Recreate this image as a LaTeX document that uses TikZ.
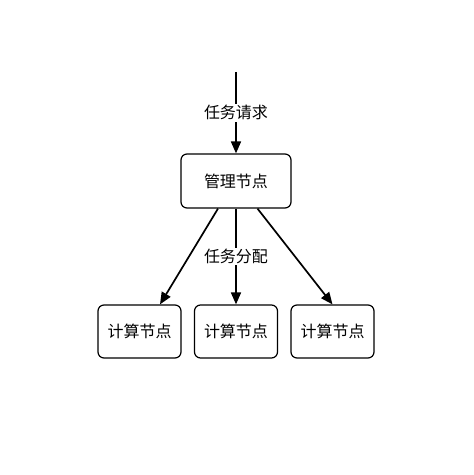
\documentclass[tikz,border=0pt]{standalone}
\usepackage{fontspec}
\newfontfamily\cjk{Noto Sans CJK SC}
\usetikzlibrary{arrows.meta}
\begin{document}
\begin{tikzpicture}[x=1pt,y=1pt,
  nodebox/.style={draw=black,line width=1.2pt,rounded corners=6pt,inner sep=0pt,font=\cjk\fontsize{16}{19}\selectfont},
  arr/.style={line width=1.7pt,-{Triangle[length=12pt,width=10pt]}},
  lbl/.style={fill=white,inner sep=1.5pt,font=\cjk\fontsize{16}{19}\selectfont}]
\useasboundingbox (0,0) rectangle (474,475);
\coordinate (top) at (236,403);
\node[nodebox,minimum width=110pt,minimum height=54pt] (m) at (236,294) {管理节点};
\node[nodebox,minimum width=83pt,minimum height=53pt] (c1) at (139.5,143.5) {计算节点};
\node[nodebox,minimum width=83pt,minimum height=53pt] (c2) at (236,143.5) {计算节点};
\node[nodebox,minimum width=83pt,minimum height=53pt] (c3) at (332.5,143.5) {计算节点};
\draw[arr] (top) -- node[lbl,pos=0.5] {任务请求} (m.north);
\draw[arr] ([xshift=-18pt]m.south) -- ([xshift=20.5pt]c1.north);
\draw[arr] (m.south) -- node[lbl,pos=0.5] {任务分配} (c2.north);
\draw[arr] ([xshift=21.5pt]m.south) -- ([xshift=0pt]c3.north);
\end{tikzpicture}
\end{document}
